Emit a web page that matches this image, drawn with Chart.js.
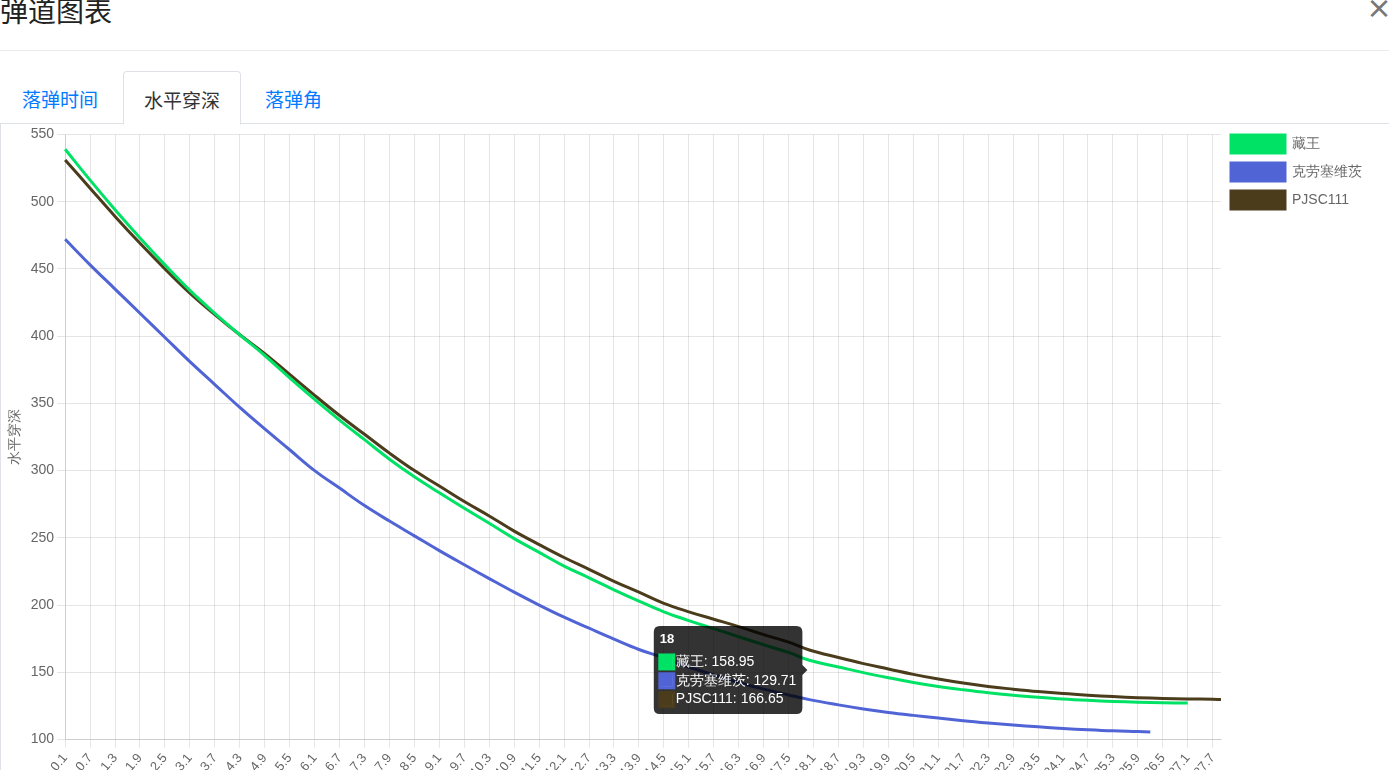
<!DOCTYPE html>
<html>
<head>
<meta charset="utf-8">
<script src="https://cdn.jsdelivr.net/npm/chart.js@4.4.0/dist/chart.umd.min.js"></script>
<style>
  body { margin: 0; font-family: "Noto Sans CJK SC", "Liberation Sans", sans-serif; background: #fff; overflow: hidden; width: 1389px; height: 770px; position: relative; }
  .title { position: absolute; left: 0; top: -10px; font-size: 28px; color: #222; }
  .close { position: absolute; left: 1366px; top: -12px; font-size: 26px; color: #777; font-weight: bold; }
  .sep { position: absolute; left: 0; top: 50px; width: 1389px; border-top: 1px solid #e9ecef; }
  .tabs { position: absolute; left: 0; top: 71px; width: 1389px; height: 52px; border-bottom: 1px solid #dee2e6; }
  .tab { position: absolute; top: 0; height: 52px; line-height: 56px; font-size: 19px; color: #007bff; }
  .tab.active { color: #333; border: 1px solid #dee2e6; border-bottom: 1px solid #fff; border-radius: 4px 4px 0 0; background: #fff; padding: 0 20px; }
  .box { position: absolute; left: 0; top: 123px; width: 1389px; height: 660px; border-left: 1px solid #dee2e6; }
</style>
</head>
<body>
<div class="title">弹道图表</div>
<div class="close">×</div>
<div class="sep"></div>
<div class="tabs">
  <div class="tab" style="left:22px">落弹时间</div>
  <div class="tab active" style="left:123px">水平穿深</div>
  <div class="tab" style="left:265px">落弹角</div>
</div>
<div class="box"><canvas id="chart"></canvas></div>
<script>
// x labels 0.1 .. 27.9 (step 0.1)
const labels = [];
for (let i = 1; i <= 279; i++) labels.push(String(i / 10));

const seriesNames = ["藏王", "克劳塞维茨", "PJSC111"];
const seriesColors = ["#00e266", "#5064d6", "#4b3c1c"];

// read-off points: [x, value]
const zaoWang = [
  [0.1, 539], [0.7, 516], [1.3, 494], [1.9, 473], [2.5, 453], [3.1, 434], [3.7, 417], [4.3, 401],
  [4.9, 385.6], [5.5, 369], [6.1, 353], [6.7, 337.6], [7.3, 323], [7.9, 308.5], [8.5, 295.4],
  [9.1, 283.5], [9.7, 272], [10.3, 260.8], [10.9, 249.4], [11.5, 239.2], [12.1, 229], [12.7, 220.3],
  [13.3, 211.4], [13.9, 203], [14.5, 195], [15.1, 188.5], [15.7, 182.5], [16.3, 176.5], [16.9, 170.5],
  [17.5, 164.8], [18, 158.95], [18.7, 154], [19.3, 149.8], [19.9, 146], [20.5, 142.5], [21.1, 139.5],
  [21.7, 137], [22.3, 134.8], [22.9, 133], [23.5, 131.5], [24.1, 130.2], [24.7, 129.2], [25.3, 128.4],
  [25.9, 127.8], [26.5, 127.4], [27.1, 127.2]
];
const clausewitz = [
  [0.1, 472], [0.7, 453], [1.3, 435], [1.9, 417], [2.5, 399], [3.1, 381], [3.7, 364], [4.3, 347],
  [4.9, 331], [5.5, 315.5], [6.1, 300], [6.7, 287], [7.3, 274], [7.9, 262.5], [8.5, 251.5],
  [9.1, 240.5], [9.7, 230], [10.3, 219.7], [10.9, 209.6], [11.5, 200], [12.1, 191], [12.7, 182.8],
  [13.3, 174.7], [13.9, 167], [14.5, 160.8], [15.1, 154], [15.7, 148], [16.3, 142.5], [16.9, 137.5],
  [17.5, 133.2], [18, 129.71], [18.7, 125.8], [19.3, 122.8], [19.9, 120.2], [20.5, 118], [21.1, 116],
  [21.7, 114], [22.3, 112.3], [22.9, 110.8], [23.5, 109.5], [24.1, 108.3], [24.7, 107.3], [25.3, 106.5],
  [25.9, 106], [26.2, 105.7]
];
const pjsc111 = [
  [0.1, 531], [0.7, 510], [1.3, 489], [1.9, 469], [2.5, 450], [3.1, 432], [3.7, 416], [4.3, 401],
  [4.9, 387], [5.5, 371.5], [6.1, 356], [6.7, 341], [7.3, 327], [7.9, 313], [8.5, 300],
  [9.1, 288.6], [9.7, 277], [10.3, 266.3], [10.9, 255], [11.5, 245], [12.1, 235.4], [12.7, 226.6],
  [13.3, 217.7], [13.9, 209.6], [14.5, 201.3], [15.1, 195], [15.7, 189.5], [16.3, 184], [16.9, 178],
  [17.5, 172.5], [18, 166.65], [18.7, 161], [19.3, 156.5], [19.9, 152.5], [20.5, 148.5], [21.1, 145],
  [21.7, 142], [22.3, 139.5], [22.9, 137.5], [23.5, 135.7], [24.1, 134.2], [24.7, 133], [25.3, 132],
  [25.9, 131.2], [26.5, 130.6], [27.1, 130.2], [27.7, 130], [27.9, 129.8]
];

function toSeries(points) {
  const arr = new Array(labels.length).fill(null);
  points.forEach(([x, v]) => { arr[Math.round(x * 10) - 1] = v; });
  return arr;
}

const datasets = [zaoWang, clausewitz, pjsc111].map((pts, i) => ({
  label: seriesNames[i],
  data: toSeries(pts),
  borderColor: seriesColors[i],
  backgroundColor: seriesColors[i],
  borderWidth: 3,
  pointRadius: 0,
  pointHoverRadius: 0,
  tension: 0.4,
  spanGaps: true,
  fill: false
}));

const chart = new Chart(document.getElementById("chart"), {
  type: "line",
  data: { labels, datasets },
  options: {
    responsive: true,
    maintainAspectRatio: false,
    animation: false,
    layout: { padding: { top: 2, right: 18, left: 2 } },
    interaction: { mode: "index", intersect: false },
    plugins: {
      legend: {
        position: "right",
        align: "start",
        labels: { boxWidth: 54, boxHeight: 18, color: "#666", font: { size: 14 }, padding: 10 }
      },
      tooltip: {
        backgroundColor: "rgba(0,0,0,0.8)",
        titleFont: { size: 13, weight: "bold" },
        bodyFont: { size: 14 },
        bodySpacing: 2,
        boxPadding: 0,
        filter: item => item.raw !== null
      }
    },
    scales: {
      x: {
        grid: { color: "rgba(0,0,0,0.1)" },
        ticks: {
          autoSkip: false,
          maxRotation: 50,
          minRotation: 50,
          color: "#666",
          font: { size: 13 },
          callback: (value, index) => index % 6 === 0 ? labels[index] : null
        }
      },
      y: {
        min: 100,
        max: 550,
        grid: { color: "rgba(0,0,0,0.1)" },
        ticks: { stepSize: 50, color: "#666", font: { size: 14 } },
        title: { display: true, text: "水平穿深", color: "#666", font: { size: 14 } }
      }
    }
  }
});

// show the hover tooltip at x = 18
const idx = labels.indexOf("18");
const meta = chart.getDatasetMeta(0);
const pt = meta.data[idx];
chart.tooltip.setActiveElements(
  [0, 1, 2].map(d => ({ datasetIndex: d, index: idx })),
  { x: pt.x, y: pt.y }
);
chart.update();
</script>
</body>
</html>
